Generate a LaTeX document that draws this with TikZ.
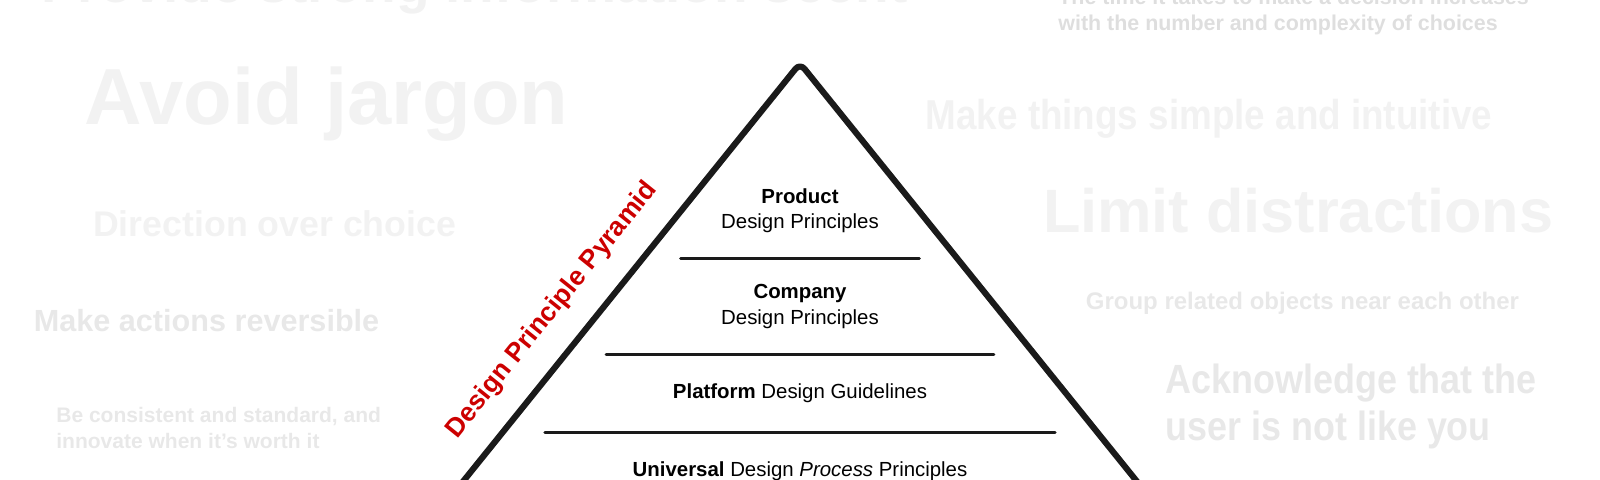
\documentclass[tikz,border=0pt]{standalone}
\usepackage{fontspec}
\setmainfont{Liberation Sans}
\newfontfamily\narrowfont[FakeStretch=0.88]{Liberation Sans}
\newcommand{\px}[1]{\fontsize{#1}{#1}\selectfont}
\definecolor{ghostlight}{HTML}{F2F2F2}
\definecolor{ghostmid}{HTML}{E8E8E8}
\definecolor{ghostdark}{HTML}{DEDEDE}
\definecolor{pyrred}{HTML}{CC0000}
\definecolor{pyrline}{HTML}{1A1A1A}
\begin{document}
\begin{tikzpicture}[x=1pt,y=-1pt]
\tikzset{ghost/.style={anchor=base west, inner sep=0pt},
  tier/.style={anchor=base, inner sep=0pt, font=\px{20}},
  rung/.style={draw=pyrline, line width=3pt, line cap=round}}
\useasboundingbox (0,0) rectangle (1568,470.4);
\clip (0,0) rectangle (1568,470.4);
% principles in the background
\node[ghost, text=ghostlight, font=\bfseries\px{54}] (scent) at (40,2) {Provide strong information scent};
\node[ghost, text=ghostlight, font=\bfseries\px{78}] (jargon) at (83,122) {Avoid jargon};
\node[ghost, text=ghostlight, font=\bfseries\px{35}] (direction) at (91,232) {Direction over choice};
\node[ghost, text=ghostmid, font=\bfseries\px{30}] (reversible) at (33,325) {Make actions reversible};
\node[ghost, text=ghostmid, font=\bfseries\px{20.6}] (consistent) at (55,414) {Be consistent and standard, and};
\node[ghost, text=ghostmid, font=\bfseries\px{20.6}] (innovate) at (55,440) {innovate when it’s worth it};
\node[ghost, text=ghostdark, font=\bfseries\px{21}] (hick) at (1037,4) {The time it takes to make a decision increases};
\node[ghost, text=ghostdark, font=\bfseries\px{21}] (choices) at (1037,30) {with the number and complexity of choices};
\node[ghost, text=ghostlight, font=\narrowfont\bfseries\px{41}] (simple) at (907,127) {Make things simple and intuitive};
\node[ghost, text=ghostlight, font=\bfseries\px{60}] (limit) at (1022,228) {Limit distractions};
\node[ghost, text=ghostmid, font=\bfseries\px{23.5}] (group) at (1064,303) {Group related objects near each other};
\node[ghost, text=ghostmid, font=\narrowfont\bfseries\px{40}] (acknowledge) at (1142,386) {Acknowledge that the};
\node[ghost, text=ghostmid, font=\narrowfont\bfseries\px{40}] (notlike) at (1142,432) {user is not like you};
% pyramid
\draw[pyrline, line width=6pt, line join=round, rounded corners=7pt] (415,520) -- (784,62) -- (1153,520);
\draw[rung] (667,253) -- (901,253);
\draw[rung] (594,347) -- (974,347);
\draw[rung] (534,424) -- (1034,424);
\node[tier] (product) at (784,199) {\textbf{Product}};
\node[tier] (productdp) at (784,224) {Design Principles};
\node[tier] (company) at (784,293) {\textbf{Company}};
\node[tier] (companydp) at (784,318) {Design Principles};
\node[tier] (platform) at (784,391) {\textbf{Platform} Design Guidelines};
\node[tier] (universal) at (784,467) {\textbf{Universal} Design \textit{Process} Principles};
\node[text=pyrred, rotate=51.2, inner sep=0pt, font=\bfseries\px{26}] (pyramid) at (541,304) {Design Principle Pyramid};
\end{tikzpicture}
\end{document}
